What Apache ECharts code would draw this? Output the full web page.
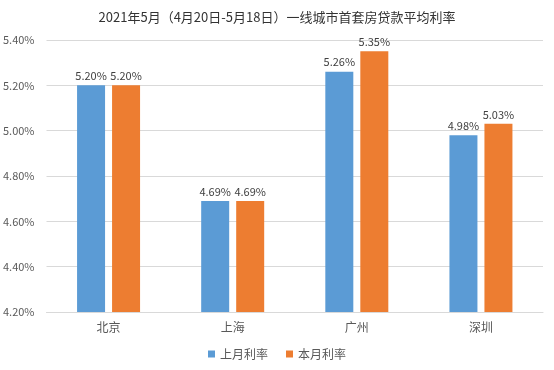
<!DOCTYPE html>
<html><head><meta charset="utf-8">
<script src="https://cdn.jsdelivr.net/npm/echarts@6/dist/echarts.min.js"></script>
<style>html,body{margin:0;padding:0;background:#fff}#c{width:554px;height:370px}</style>
</head><body><div id="c"></div>
<script>
const titleText = '2021年5月（4月20日-5月18日）一线城市首套房贷款平均利率';
const categories = ['北京', '上海', '广州', '深圳'];
const lastMonth = [5.20, 4.69, 5.26, 4.98];
const thisMonth = [5.20, 4.69, 5.35, 5.03];
const seriesNames = ['上月利率', '本月利率'];
const font = '"Microsoft YaHei","Noto Sans CJK SC",sans-serif';
const chart = echarts.init(document.getElementById('c'), null, {renderer: 'canvas'});
const lbl = {show: true, position: 'top', distance: 4, color: '#404040', fontSize: 11, fontFamily: font,
  formatter: p => p.value.toFixed(2) + '%'};
chart.setOption({
  animation: false,
  textStyle: {fontFamily: font},
  title: {text: titleText, left: 'center', top: 6,
    textStyle: {fontSize: 13, fontWeight: 'normal', color: '#333', fontFamily: font}},
  legend: {bottom: 5, left: 'center', itemWidth: 7, itemHeight: 7, itemGap: 18, icon: 'rect',
    textStyle: {fontSize: 12, color: '#595959', fontFamily: font}, data: seriesNames},
  grid: {left: 44, right: 11, top: 40, bottom: 58},
  xAxis: {type: 'category', data: categories,
    axisLine: {lineStyle: {color: '#d9d9d9'}}, axisTick: {show: false},
    axisLabel: {color: '#595959', fontSize: 12, margin: 9, fontFamily: font}},
  yAxis: {type: 'value', min: 4.2, max: 5.4, interval: 0.2,
    axisLine: {show: false}, axisTick: {show: false},
    splitLine: {lineStyle: {color: '#d9d9d9'}},
    axisLabel: {color: '#595959', fontSize: 11, margin: 12, fontFamily: font,
      formatter: v => v.toFixed(2) + '%'}},
  series: [
    {name: seriesNames[0], type: 'bar', data: lastMonth, barWidth: 28, barGap: '25%',
      itemStyle: {color: '#5b9bd5'}, label: lbl},
    {name: seriesNames[1], type: 'bar', data: thisMonth, barWidth: 28, barGap: '25%',
      itemStyle: {color: '#ed7d31'}, label: lbl}
  ]
});
</script></body></html>
